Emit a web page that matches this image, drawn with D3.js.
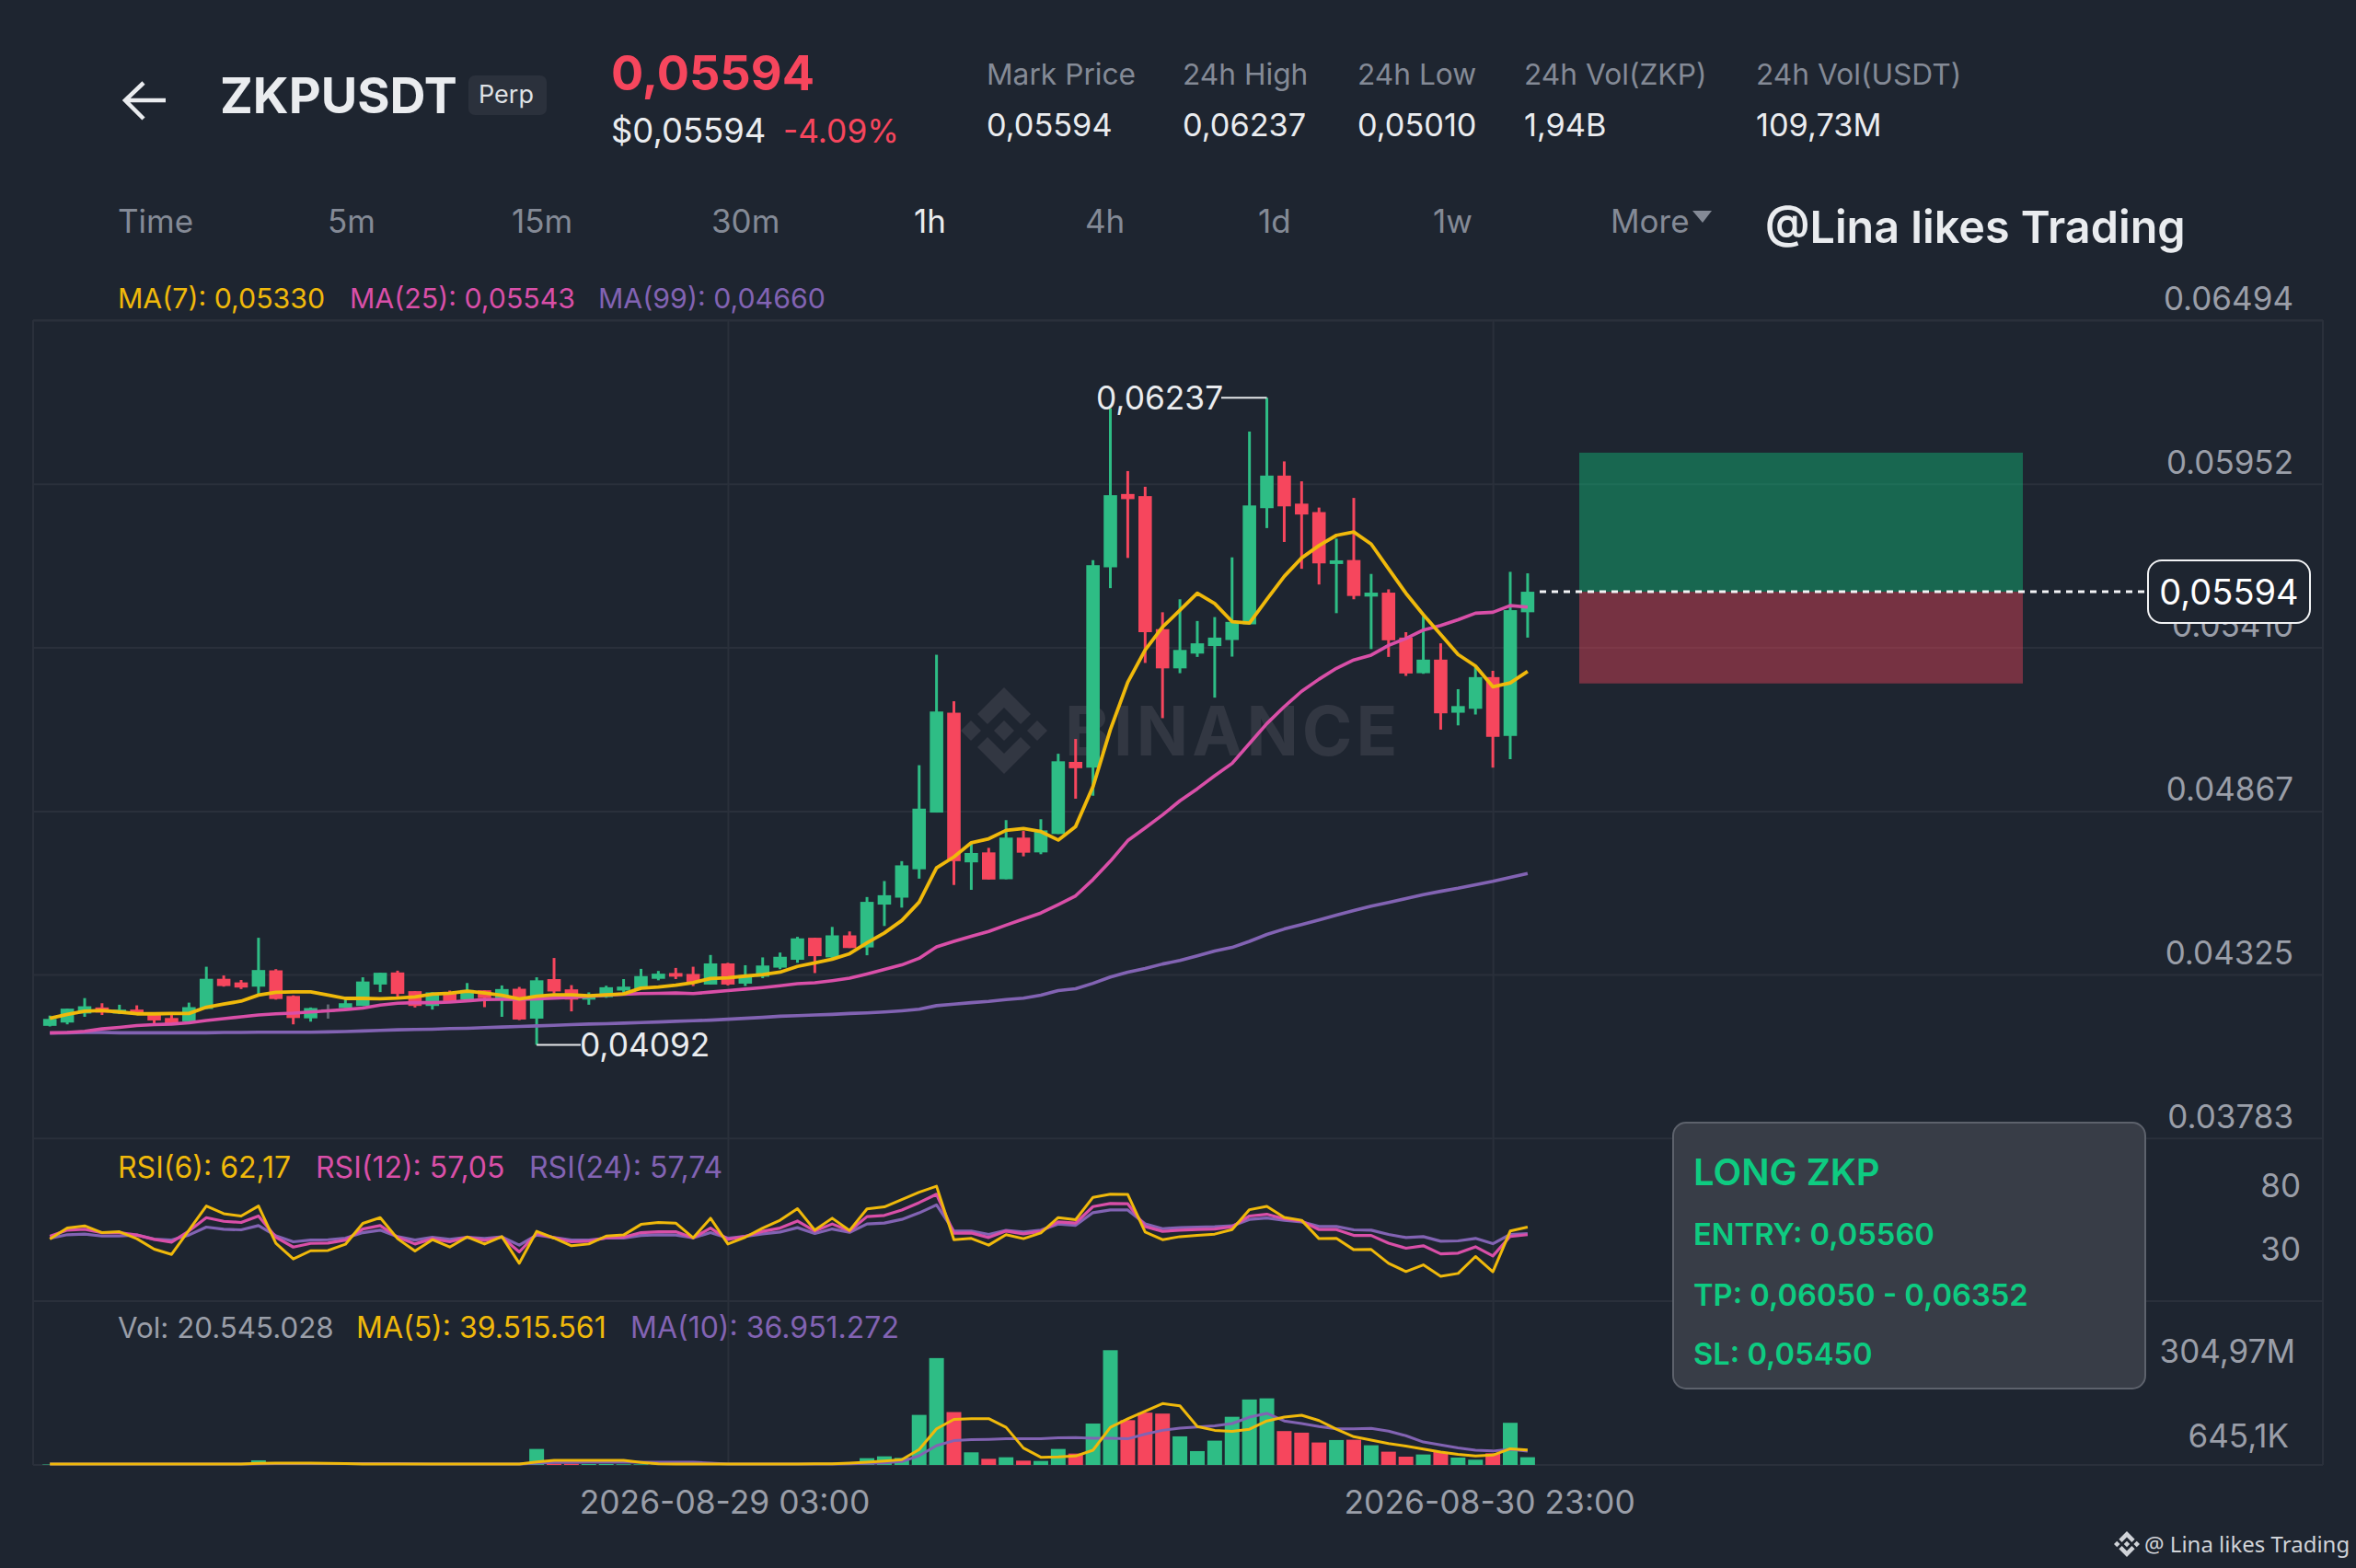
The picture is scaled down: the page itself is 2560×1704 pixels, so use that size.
<!DOCTYPE html>
<html><head><meta charset="utf-8">
<script src="https://cdn.jsdelivr.net/npm/d3@7/dist/d3.min.js"></script>
<style>html,body{margin:0;padding:0;background:#1e2530}svg{display:block}text{font-family:Inter,"Noto Sans",sans-serif}</style>
</head><body><svg id="c" width="2560" height="1704"></svg>
<script>
// prices in units of 0.00001
const candleOpen=[4155,4166,4196,4216,4196,4209,4196,4181,4170,4211,4311,4299,4285,4339,4254,4180,4210,4214,4221,4292,4332,4270,4221,4262,4242,4273,4240,4278,4179,4310,4276,4242,4250,4272,4277,4311,4330,4327,4292,4362,4295,4318,4348,4374,4447,4382,4455,4415,4557,4580,4674,4862,5193,4697,4730,4641,4779,4730,4791,5030,5011,5675,5918,5911,5470,5340,5389,5414,5434,5486,5871,5979,5886,5858,5686,5699,5578,5591,5442,5324,5369,5193,5206,5311,5116,5526];
const candleHigh=[4189,4212,4247,4230,4225,4223,4196,4191,4232,4351,4322,4307,4447,4343,4256,4216,4226,4250,4316,4331,4338,4270,4266,4272,4297,4273,4289,4284,4316,4380,4290,4266,4288,4310,4344,4337,4347,4351,4390,4364,4356,4382,4398,4450,4447,4483,4468,4582,4635,4701,5019,5385,5231,4765,4745,4837,4801,4840,5057,5106,5699,6202,5994,5942,5526,5569,5497,5510,5708,6125,6237,6026,5960,5873,5770,5905,5653,5602,5460,5513,5423,5271,5345,5332,5660,5655];
const candleLow=[4153,4160,4185,4191,4194,4191,4160,4162,4170,4211,4285,4277,4257,4242,4160,4169,4179,4214,4221,4267,4250,4216,4209,4237,4242,4217,4185,4174,4092,4262,4203,4225,4248,4260,4277,4306,4310,4287,4292,4289,4287,4313,4343,4364,4330,4379,4413,4389,4486,4547,4643,4862,4622,4606,4640,4641,4717,4724,4791,4908,4918,5606,5706,5358,5175,5324,5378,5243,5379,5486,5805,5759,5670,5618,5523,5569,5404,5378,5315,5322,5137,5151,5187,5011,5039,5442];
const candleClose=[4178,4212,4220,4199,4209,4196,4173,4162,4217,4311,4287,4282,4340,4244,4181,4214,4210,4230,4302,4331,4261,4221,4266,4237,4274,4247,4277,4176,4306,4269,4242,4257,4283,4285,4320,4328,4318,4298,4362,4292,4323,4355,4384,4445,4386,4455,4413,4566,4588,4687,4875,5197,4701,4728,4640,4779,4729,4803,5032,5009,5682,5914,5901,5460,5340,5401,5423,5442,5494,5880,5979,5877,5850,5688,5698,5580,5591,5433,5323,5369,5191,5215,5311,5113,5533,5594];
const ma7=[4180,4193,4204,4206,4201,4195,4195,4196,4196,4217,4227,4237,4257,4266,4268,4268,4257,4246,4246,4245,4247,4251,4260,4263,4270,4264,4256,4244,4253,4258,4258,4255,4258,4261,4280,4284,4290,4298,4312,4314,4320,4325,4333,4352,4364,4376,4394,4430,4463,4504,4565,4679,4715,4762,4775,4803,4809,4799,4771,4816,4948,5137,5294,5401,5477,5533,5589,5555,5495,5490,5569,5645,5706,5747,5781,5792,5752,5670,5589,5518,5452,5386,5348,5279,5292,5330];
const ma25=[4132,4133,4137,4145,4150,4156,4159,4161,4165,4173,4179,4185,4191,4195,4197,4201,4205,4209,4214,4224,4230,4232,4232,4234,4238,4242,4243,4243,4245,4247,4249,4253,4257,4260,4262,4263,4264,4262,4267,4272,4277,4282,4288,4295,4298,4305,4313,4327,4342,4357,4379,4417,4435,4452,4468,4489,4509,4529,4557,4586,4640,4701,4769,4811,4854,4901,4941,4984,5025,5091,5157,5213,5264,5304,5340,5368,5384,5416,5439,5467,5482,5501,5523,5526,5548,5543];
const ma99=[4131,4132,4133,4133,4132,4132,4132,4132,4132,4132,4133,4133,4134,4134,4134,4134,4135,4136,4138,4140,4142,4143,4144,4146,4147,4149,4151,4153,4155,4157,4159,4161,4162,4164,4166,4168,4170,4172,4174,4177,4180,4183,4187,4189,4191,4193,4196,4198,4201,4205,4210,4222,4227,4232,4236,4242,4247,4257,4272,4278,4296,4317,4333,4345,4360,4372,4387,4403,4415,4435,4458,4476,4491,4506,4522,4537,4552,4564,4577,4590,4601,4611,4623,4634,4647,4660];
const rsi6=[54.0,61.5,63.0,58.4,59.0,54.3,47.2,43.6,60.1,76.5,71.3,69.7,76.5,51.1,40.5,46.1,46.3,50.5,64.7,68.6,54.3,45.9,53.6,48.6,55.5,50.7,55.7,37.6,59.3,54.7,49.5,50.7,56.1,56.8,64.0,65.3,64.9,54.9,68.2,50.7,55.3,61.5,66.8,74.7,60.1,68.2,59.9,74.5,75.9,80.9,85.9,89.9,53.6,54.5,49.9,57.0,54.3,58.2,68.6,67.2,82.4,84.5,84.3,58.8,53.6,55.7,56.5,57.4,60.5,74.0,76.3,68.8,66.8,54.3,54.5,46.8,47.0,37.6,32.0,36.5,28.8,30.7,42.2,31.8,59.5,62.17];
const rsi12=[55.9,60.1,60.7,58.4,58.4,56.8,53.8,52.0,59.5,68.6,66.1,65.3,69.7,55.3,48.6,51.1,51.3,53.4,60.9,63.2,55.3,50.7,54.3,52.2,55.3,53.2,55.3,45.3,57.8,54.9,52.2,52.6,54.9,55.3,58.4,59.0,59.0,54.9,61.5,53.8,55.9,59.3,61.5,66.3,59.5,64.3,59.5,69.3,70.1,73.8,78.8,84.5,58.0,58.2,55.1,59.5,57.6,59.3,65.7,64.9,76.1,78.2,78.0,62.6,59.3,60.1,60.5,60.9,62.4,69.7,70.9,67.8,66.3,60.5,60.5,56.5,56.5,51.3,47.8,49.5,44.0,44.5,48.8,42.6,55.9,57.05];
const rsi24=[54.5,57.0,57.4,56.1,56.1,56.8,54.0,53.4,56.8,62.2,60.7,60.3,63.2,56.3,52.2,53.4,53.6,54.7,58.4,60.1,55.7,53.4,55.3,53.8,55.3,54.5,55.5,49.9,56.8,55.1,53.4,53.4,54.7,54.7,56.5,57.0,56.8,54.9,58.4,54.7,55.9,57.6,58.8,61.8,57.8,60.9,58.6,64.3,64.9,67.4,71.8,77.2,59.5,59.5,57.2,59.9,58.8,60.1,64.3,63.4,72.0,73.8,73.8,64.3,61.1,61.8,62.2,62.4,63.0,67.4,68.4,66.8,65.7,62.6,62.6,60.3,60.1,57.2,55.1,55.7,52.6,52.8,54.5,50.9,57.2,57.74];
// volumes in millions
const volume=[1.2,1.1,1.4,0.9,0.8,0.9,1.2,1.0,1.3,2.6,1.1,0.9,12.3,2.4,2.0,1.4,0.65,0.9,1.3,1.0,1.2,1.0,0.9,0.8,0.9,0.8,0.9,1.6,42.5,3.4,3.0,2.4,2.6,1.8,1.7,1.0,0.8,1.0,1.4,1.0,0.9,1.1,1.3,1.5,1.6,1.4,2.0,18,22.9,18.8,133,284,140.5,33.5,16.3,20.4,11.4,10.6,42.5,30.2,110,304.97,119,139,136.5,76,36.8,64.6,128,174,177,90,85.8,59.7,66.2,67,52.3,35.2,22,27.8,34.3,19.6,13.9,31,112,20.545];
const volMa5=[2.5,2.5,2.4,2.4,2.4,2.4,2.4,2.4,2.4,2.5,2.5,2.6,4.5,5,5,5,4.5,3.5,2.5,2.4,2.3,2.3,2.3,2.3,2.3,2.3,2.3,2.4,8,12,12.2,12.4,12.4,12,7,3,2.5,2.4,2.4,2.4,2.4,2.4,2.5,2.6,2.8,3.3,4.9,7.4,10.6,13.9,40.9,96,121,123,123,100,45,20.4,21.2,23.7,39.2,100,122.5,143,163,157,102,92,89,95,117,127,132,118,95,75,66,57,50,42,34,28,24,26,43,39.5];
const volMa10=[2.2,2.2,2.2,2.2,2.2,2.2,2.2,2.2,2.2,2.2,2.2,2.2,3,3.5,3.5,3.5,3.5,3.5,3.5,3.5,3.5,3,2.5,2.3,2.2,2.2,2.2,2.2,5,6.5,7,7.5,7.5,7.5,7.5,7.5,7.5,7.5,5,2.5,2.3,2.3,2.3,2.4,2.4,2.5,3.3,4,5.7,9,24.5,51.5,64.6,67,67.8,69.5,70,70,72,72.7,71,71,69.5,82,92,98,101,104,110,127,137,117,110,102,96,96,97,90,77.6,61,53,45,39,37,41.6,36.95];
const priceTicks=[6494,5952,5410,4867,4325,3783];
const timeTickIndex=[39,83];
const timeTickLabels=["2026-08-29 03:00","2026-08-30 23:00"];
const timeframes=["Time","5m","15m","30m","1h","4h","1d","1w","More"];
const statLabels=["Mark Price","24h High","24h Low","24h Vol(ZKP)","24h Vol(USDT)"];
const statValues=["0,05594","0,06237","0,05010","1,94B","109,73M"];
const maLegend=["MA(7): 0,05330","MA(25): 0,05543","MA(99): 0,04660"];
const rsiLegend=["RSI(6): 62,17","RSI(12): 57,05","RSI(24): 57,74"];
const volLegend=["Vol: 20.545.028","MA(5): 39.515.561","MA(10): 36.951.272"];
const tradeTop=6055, tradeEntry=5594, tradeBottom=5290;
const highValue=6237, lowValue=4092, lastValue=5594;

const BG="#1e2530",GREEN="#2ebd85",RED="#f6465d",GRID="#2a303b",AXIS="#9a9ea8",DIM="#848a96";
const YEL="#f0b90b",PINK="#d94fa8",PUR="#8263b3";
const svg=d3.select("#c");
svg.append("rect").attr("width",2560).attr("height",1704).attr("fill",BG);
const L=36,R=2524,T=348,B1=1236.5,B2=1414,B3=1592;
const idx=d3.range(candleOpen.length);
const x=d3.scaleLinear().domain([0,85]).range([54.2,1659.9]);
const y=d3.scaleLinear().domain([3783,6494]).range([1236.8,348]);
const yR=d3.scaleLinear().domain([30,80]).range([1385,1305]);
const yV=d3.scaleLinear().domain([0,304.97]).range([B3,1467.3]);

function txt(s,px,py,size,fill,opt={}){
  const t=svg.append("text").attr("x",px).attr("y",py).attr("font-size",size).attr("fill",fill).text(s);
  if(opt.weight)t.attr("font-weight",opt.weight);
  if(opt.anchor)t.attr("text-anchor",opt.anchor);
  if(opt.family)t.style("font-family",opt.family);
  if(opt.ls)t.attr("letter-spacing",opt.ls);
  return t;
}
function logo(cx,cy,s,fill){ // Binance mark, s = half-width
  const k=s/47;
  const g=svg.append("g").attr("transform",`translate(${cx},${cy}) scale(${k})`).attr("fill",fill);
  g.append("path").attr("d","M0,-47 L29,-18 L18,-7 L0,-25 L-18,-7 L-29,-18Z");
  g.append("path").attr("d","M0,47 L29,18 L18,7 L0,25 L-18,7 L-29,18Z");
  g.append("path").attr("d","M0,-11 L11,0 L0,11 L-11,0Z");
  g.append("path").attr("d","M-36,-11 L-25,0 L-36,11 L-47,0Z");
  g.append("path").attr("d","M36,-11 L47,0 L36,11 L25,0Z");
}

// frame & grid
const gridG=svg.append("g");
[[L,T,R,T],[L,B2,R,B2],[L,B3,R,B3],[L,T,L,B3],[R,T,R,B3]].forEach(a=>
  gridG.append("line").attr("x1",a[0]).attr("y1",a[1]).attr("x2",a[2]).attr("y2",a[3]).attr("stroke",GRID).attr("stroke-width",2));
const yAxis=d3.axisRight(y).tickValues(priceTicks).tickSize(-(R-L)).tickFormat(d=>(d/1e5).toFixed(5));
const ya=svg.append("g").attr("transform",`translate(${R},0)`).call(yAxis);
ya.select(".domain").remove();
ya.selectAll("line").attr("stroke",GRID).attr("stroke-width",2);
ya.selectAll("text").attr("x",-32).attr("dy",-11.5).attr("text-anchor","end").attr("font-size",35).attr("fill",AXIS).style("font-family","Inter,sans-serif");
const xAxis=d3.axisBottom(x).tickValues(timeTickIndex).tickSize(-(B3-T)).tickFormat((d,i)=>timeTickLabels[i]);
const xa=svg.append("g").attr("transform",`translate(0,${B3})`).call(xAxis);
xa.select(".domain").remove();
xa.selectAll("line").attr("stroke",GRID).attr("stroke-width",2);
xa.selectAll("text").attr("y",53).attr("dy",0).attr("dx",-4).attr("font-size",35.4).attr("fill",AXIS).style("font-family","Inter,sans-serif");

// watermark
logo(1091,794,47,"#323742");
txt("BINANCE",1157,821,74,"#323742",{weight:700,ls:4});

// trade zones
svg.append("rect").attr("x",1716).attr("width",482).attr("y",y(tradeTop)).attr("height",y(tradeEntry)-y(tradeTop)).attr("fill","#0ecb81").attr("fill-opacity",.4);
svg.append("rect").attr("x",1716).attr("width",482).attr("y",y(tradeEntry)).attr("height",y(tradeBottom)-y(tradeEntry)).attr("fill",RED).attr("fill-opacity",.41);

// candles
const colour=i=>candleClose[i]>candleOpen[i]?GREEN:candleClose[i]<candleOpen[i]?RED:"#5f6570";
const cg=svg.append("g");
cg.selectAll("line").data(idx).join("line").attr("x1",x).attr("x2",x)
  .attr("y1",i=>y(candleHigh[i])).attr("y2",i=>y(candleLow[i])).attr("stroke",colour).attr("stroke-width",3);
cg.selectAll("rect").data(idx).join("rect").attr("x",i=>x(i)-7.3).attr("width",14.6)
  .attr("y",i=>y(Math.max(candleOpen[i],candleClose[i])))
  .attr("height",i=>Math.max(3,Math.abs(y(candleOpen[i])-y(candleClose[i])))).attr("fill",colour);

function line(arr,scale,col,w){
  svg.append("path").attr("d",d3.line().x((d,i)=>x(i)).y(d=>scale(d))(arr)).attr("fill","none").attr("stroke",col).attr("stroke-width",w).attr("stroke-linejoin","round");
}
line(ma99,y,PUR,3.6);line(ma25,y,PINK,3.6);line(ma7,y,YEL,3.8);

// RSI
line(rsi24,yR,PUR,3.2);line(rsi12,yR,PINK,3.2);line(rsi6,yR,YEL,3);

// Volume
svg.append("g").selectAll("rect").data(idx).join("rect").attr("x",i=>x(i)-8).attr("width",16)
  .attr("y",i=>yV(volume[i])).attr("height",i=>B3-yV(volume[i])).attr("fill",colour);
line(volMa10,yV,PUR,3);line(volMa5,yV,YEL,3);

// high/low annotation
const lw="#e6e8ea";
svg.append("line").attr("x1",1327).attr("x2",x(70)).attr("y1",y(highValue)).attr("y2",y(highValue)).attr("stroke",lw).attr("stroke-width",2);
txt("0,06237",1191,445,35.3,"#eaecef");
svg.append("line").attr("x1",x(28)).attr("x2",631).attr("y1",y(lowValue)).attr("y2",y(lowValue)).attr("stroke",lw).attr("stroke-width",2);
txt("0,04092",630,1148,35.3,"#eaecef");

// last price
svg.append("line").attr("x1",1673).attr("x2",2333).attr("y1",y(lastValue)).attr("y2",y(lastValue)).attr("stroke","#f2f3f5").attr("stroke-width",3).attr("stroke-dasharray","7 6");
svg.append("rect").attr("x",2334).attr("y",609).attr("width",176).attr("height",68).attr("rx",15).attr("fill",BG).attr("stroke","#f2f3f5").attr("stroke-width",2);
txt("0,05594",2422,657,38,"#ffffff",{anchor:"middle"});

// header
svg.append("path").attr("d","M180,109 H137 M156,90 L136,109 L156,129").attr("fill","none").attr("stroke","#eaecef").attr("stroke-width",4.5);
txt("ZKPUSDT",239,123,54,"#eaecef",{weight:700});
svg.append("rect").attr("x",509).attr("y",82).attr("width",85).attr("height",43).attr("rx",7).attr("fill","#2b313c");
txt("Perp",520,112,27,"#dfe1e5");
txt("0,05594",664,98,52.3,RED,{weight:700});
txt("$0,05594",664,155,36.4,"#eaecef");
txt("-4.09%",851,155,35.3,RED);
const statX=[1072,1285,1475,1656,1908];
statLabels.forEach((s,i)=>txt(s,statX[i],92,31.7,DIM));
statValues.forEach((s,i)=>txt(s,statX[i],148,34.3,"#eaecef"));
const tfX=[128,356,556,773,993,1179,1367,1557,1750];
timeframes.forEach((s,i)=>txt(s,tfX[i],253,35,s==="1h"?"#eaecef":DIM));
svg.append("path").attr("d","M1839,229 H1860 L1850,242Z").attr("fill",DIM);
txt("@Lina likes Trading",1918,264,48.5,"#eaecef",{weight:600});

// legends
const maCols=[YEL,PINK,PUR];
[128,380,650].forEach((px,i)=>txt(maLegend[i],px,335,30.3,maCols[i]));
[128,343,575].forEach((px,i)=>txt(rsiLegend[i],px,1280,32,maCols[i]));
[128,387,685].forEach((px,i)=>txt(volLegend[i],px,1454,i?32:31.3,[AXIS,YEL,PUR][i]));

// side labels
txt("80",2500,1301,35,AXIS,{anchor:"end"});
txt("30",2500,1370,35,AXIS,{anchor:"end"});
txt("304,97M",2494,1481,35,AXIS,{anchor:"end"});
txt("645,1K",2487,1573,35,AXIS,{anchor:"end"});

// info box
svg.append("rect").attr("x",1818).attr("y",1220).attr("width",513).attr("height",289).attr("rx",14).attr("fill","#383d47").attr("stroke","#5d626c").attr("stroke-width",2);
const INFO="#0ecb81";
txt("LONG ZKP",1840,1288,40,INFO,{weight:600});
txt("ENTRY: 0,05560",1840,1353,32.7,INFO,{weight:600});
txt("TP: 0,06050 - 0,06352",1840,1419,32.7,INFO,{weight:600});
txt("SL: 0,05450",1840,1483,32.7,INFO,{weight:600});

// footer watermark
logo(2311,1678,14,"#d0d3d8");
txt("@ Lina likes Trading",2330,1687,24,"#d0d3d8",{family:'"Noto Sans",sans-serif'});
</script></body></html>
